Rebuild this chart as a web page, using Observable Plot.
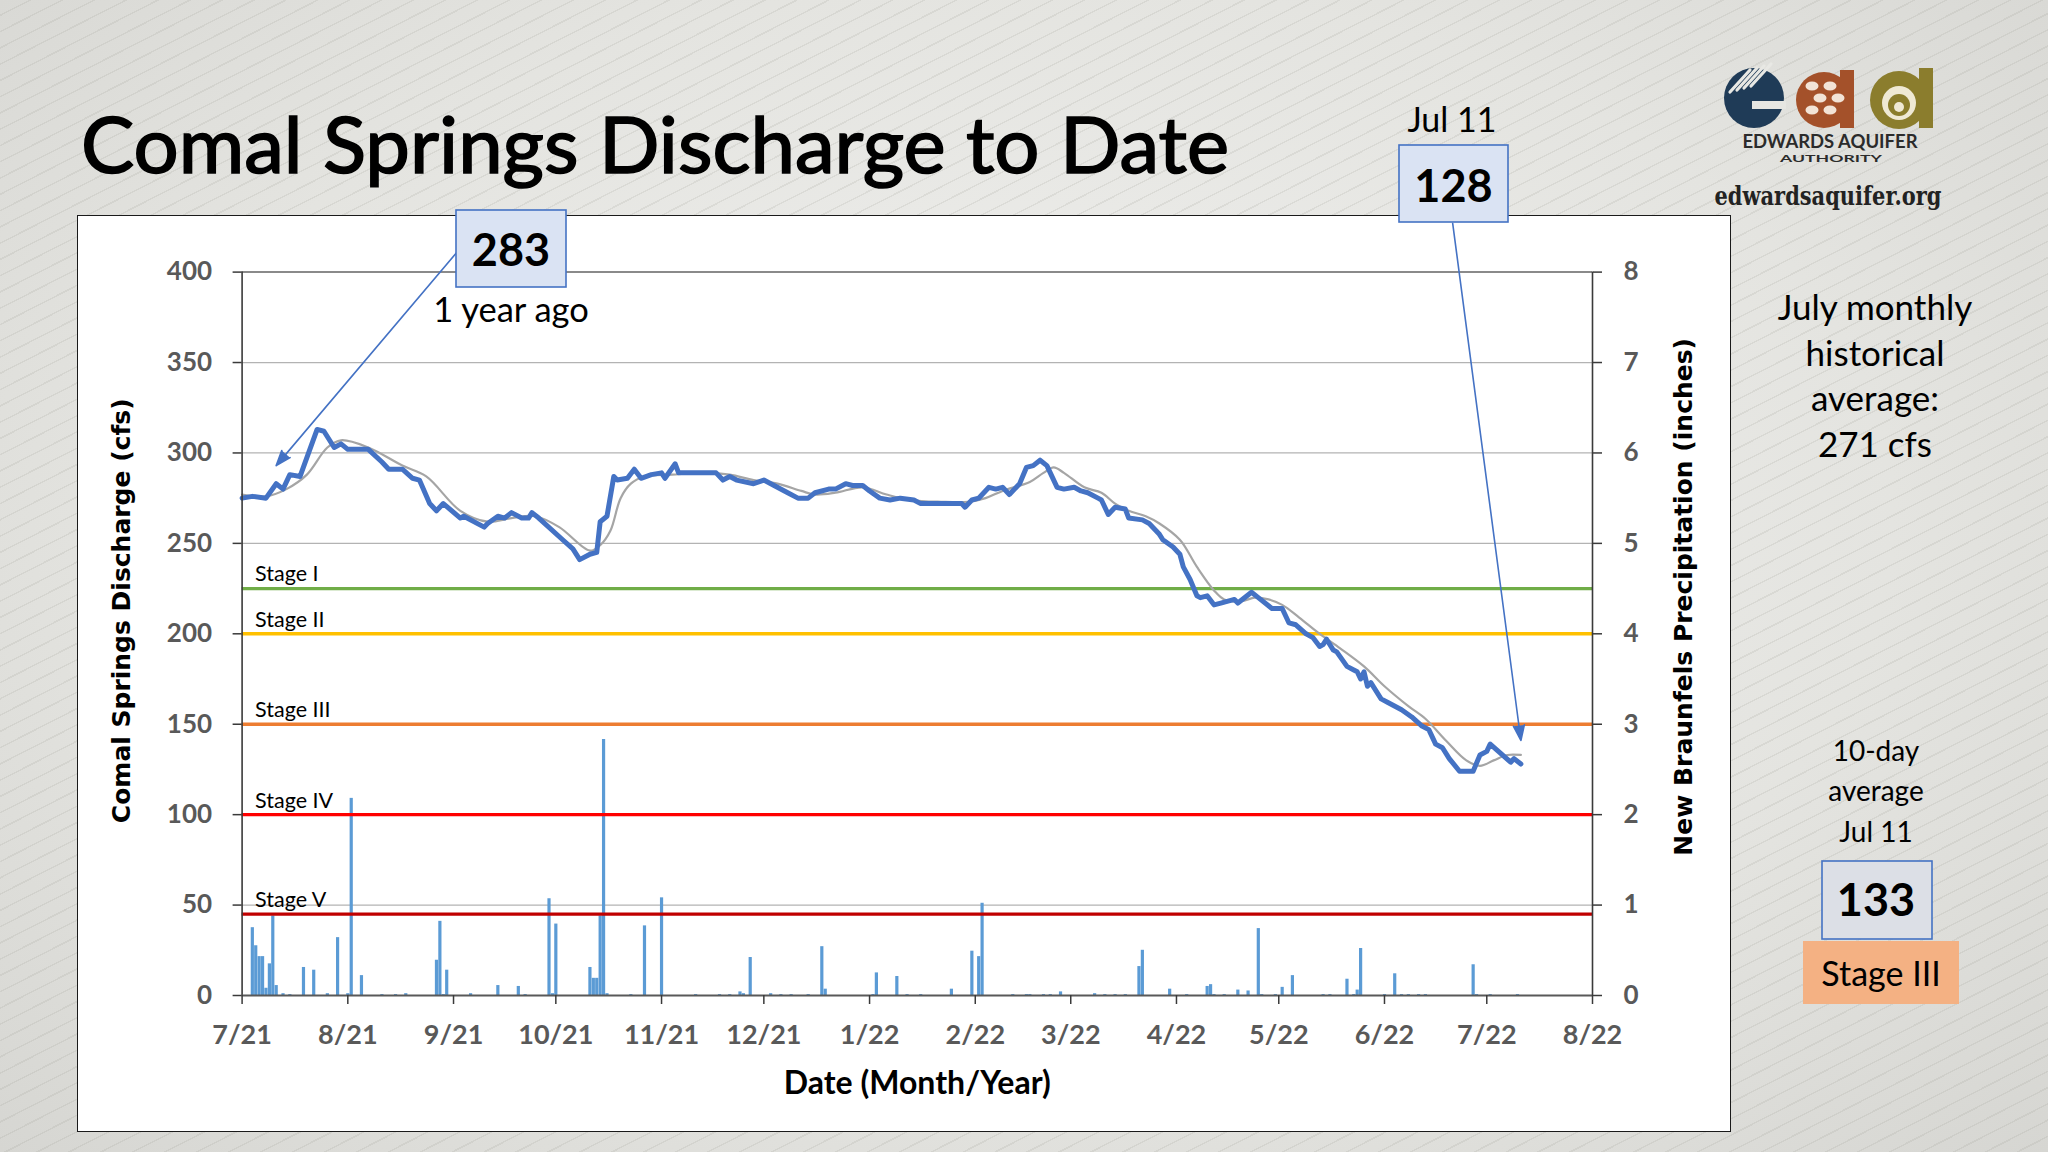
<!DOCTYPE html>
<html>
<head>
<meta charset="utf-8">
<script src="https://cdn.jsdelivr.net/npm/d3@7"></script>
<script src="https://cdn.jsdelivr.net/npm/@observablehq/plot@0.6"></script>
<style>
  html, body { margin: 0; padding: 0; }
  body {
    width: 2048px; height: 1152px; overflow: hidden; position: relative;
    font-family: Lato, "Open Sans", sans-serif;
    background:
      repeating-linear-gradient(153deg, rgba(150,150,140,0) 0px, rgba(150,150,140,0) 13px, rgba(150,150,140,0.16) 13px, rgba(150,150,140,0.16) 14.5px),
      radial-gradient(ellipse at 50% 45%, #f0f0ee 0%, #e4e4e0 60%, #d6d6d2 100%);
  }
  #panel { position: absolute; left: 77px; top: 215px; width: 1652px; height: 915px; background: #fff; border: 1.5px solid #1a1a1a; }
  #chart { position: absolute; left: 0; top: 0; }
  #overlay { position: absolute; left: 0; top: 0; pointer-events: none; }
</style>
</head>
<body>
<div id="panel"></div>
<div id="chart"></div>
<svg id="overlay" width="2048" height="1152"></svg>
<script>
// ---------- DATA ----------
// Daily Comal Springs discharge (cfs)
const flowDates = [
"2021-07-01","2021-07-04","2021-07-08","2021-07-11","2021-07-13","2021-07-15","2021-07-18","2021-07-23","2021-07-25","2021-07-28","2021-07-30",
"2021-08-01","2021-08-07","2021-08-11","2021-08-13","2021-08-17","2021-08-20","2021-08-22","2021-08-25","2021-08-27","2021-08-29",
"2021-09-03","2021-09-04","2021-09-10","2021-09-11","2021-09-14","2021-09-16","2021-09-18","2021-09-21","2021-09-23","2021-09-24","2021-09-26",
"2021-10-03","2021-10-06","2021-10-08","2021-10-11","2021-10-13","2021-10-14","2021-10-16","2021-10-18","2021-10-19","2021-10-22","2021-10-24","2021-10-26","2021-10-29",
"2021-11-01","2021-11-02","2021-11-05","2021-11-06","2021-11-17","2021-11-19","2021-11-21","2021-11-23","2021-11-28",
"2021-12-01","2021-12-04","2021-12-08","2021-12-11","2021-12-14","2021-12-16","2021-12-20","2021-12-22","2021-12-25","2021-12-27","2021-12-30",
"2022-01-01","2022-01-04","2022-01-07","2022-01-10","2022-01-14","2022-01-16","2022-01-28","2022-01-29","2022-01-31",
"2022-02-02","2022-02-05","2022-02-07","2022-02-09","2022-02-11","2022-02-14","2022-02-16","2022-02-18","2022-02-20","2022-02-22","2022-02-25","2022-02-27",
"2022-03-02","2022-03-04","2022-03-06","2022-03-09","2022-03-10","2022-03-12","2022-03-14","2022-03-17","2022-03-18","2022-03-22","2022-03-24","2022-03-27","2022-03-28","2022-03-31",
"2022-04-02","2022-04-03","2022-04-05","2022-04-07","2022-04-08","2022-04-10","2022-04-12","2022-04-14","2022-04-18","2022-04-19","2022-04-23","2022-04-25","2022-04-29",
"2022-05-02","2022-05-04","2022-05-06","2022-05-09","2022-05-11","2022-05-13","2022-05-14","2022-05-15","2022-05-17","2022-05-18","2022-05-21","2022-05-23","2022-05-24","2022-05-25","2022-05-26","2022-05-27","2022-05-28","2022-05-31",
"2022-06-02","2022-06-06","2022-06-09","2022-06-12","2022-06-14","2022-06-16","2022-06-18","2022-06-20","2022-06-23","2022-06-27","2022-06-29",
"2022-07-01","2022-07-02","2022-07-05","2022-07-08","2022-07-09","2022-07-11"
];
const flowValues = [
275,276,275,283,280,288,287,313,312,303,305,
302,302,295,291,291,286,285,272,268,272,
264,265,259,261,265,264,267,264,264,267,264,
252,247,241,244,245,262,265,287,285,286,291,286,288,
289,286,294,289,289,285,287,285,283,
285,282,278,275,275,278,280,280,283,282,282,
279,275,274,275,274,272,272,270,274,
275,281,280,281,277,283,292,293,296,293,281,280,
281,279,278,275,274,266,270,269,264,263,261,255,252,248,
244,237,230,221,220,221,216,217,219,217,223,220,214,
214,206,205,200,198,193,194,197,191,190,182,180,179,175,179,171,173,164,
162,158,154,149,147,139,137,131,124,124,133,
135,139,134,129,131,128
];

// Smoothed (gray) discharge series (cfs)
const avgDates = [
"2021-07-01","2021-07-08","2021-07-14","2021-07-20","2021-07-26","2021-07-30","2021-08-07","2021-08-17","2021-08-24",
"2021-09-03","2021-09-11","2021-09-18","2021-09-25","2021-10-02","2021-10-11","2021-10-14","2021-10-17","2021-10-20","2021-10-23","2021-10-27",
"2021-11-04","2021-11-14","2021-11-21","2021-11-28","2021-12-05","2021-12-12","2021-12-16","2021-12-22","2021-12-30",
"2022-01-06","2022-01-13","2022-01-22","2022-01-30","2022-02-04","2022-02-09","2022-02-17","2022-02-21","2022-02-24","2022-02-27",
"2022-03-05","2022-03-10","2022-03-14","2022-03-18","2022-03-23","2022-03-27","2022-04-02","2022-04-07","2022-04-12","2022-04-15",
"2022-04-20","2022-04-24","2022-04-28","2022-05-02","2022-05-07","2022-05-13","2022-05-19","2022-05-26","2022-06-01","2022-06-08",
"2022-06-13","2022-06-19","2022-06-25","2022-06-29","2022-07-03","2022-07-07","2022-07-11"
];
const avgValues = [
277,276,280,288,303,307,303,293,287,
268,262,264,265,259,246,249,257,275,283,287,
288,289,288,285,283,279,277,278,281,
277,274,273,273,275,279,284,289,292,289,
281,278,272,268,265,261,252,237,224,219,
218,220,219,216,209,200,192,182,171,160,
153,141,130,127,130,133,133
];

// New Braunfels daily precipitation (inches)
const precipDates = [
"2021-07-04","2021-07-05","2021-07-06","2021-07-07","2021-07-08","2021-07-09","2021-07-10","2021-07-11","2021-07-13","2021-07-15","2021-07-19","2021-07-22","2021-07-26","2021-07-29",
"2021-08-01","2021-08-02","2021-08-05","2021-08-11","2021-08-15","2021-08-18","2021-08-27","2021-08-28","2021-08-29","2021-08-30",
"2021-09-06","2021-09-14","2021-09-20","2021-09-22","2021-09-29","2021-09-30",
"2021-10-01","2021-10-11","2021-10-12","2021-10-13","2021-10-14","2021-10-15","2021-10-16","2021-10-23","2021-10-27",
"2021-11-01","2021-11-11","2021-11-18","2021-11-21","2021-11-24","2021-11-25","2021-11-27",
"2021-12-03","2021-12-06","2021-12-09","2021-12-14","2021-12-18","2021-12-19",
"2022-01-02","2022-01-03","2022-01-09","2022-01-12","2022-01-16","2022-01-25","2022-01-31",
"2022-02-02","2022-02-03","2022-02-12","2022-02-16","2022-02-17","2022-02-21","2022-02-23","2022-02-26",
"2022-03-08","2022-03-11","2022-03-14","2022-03-17","2022-03-21","2022-03-22","2022-03-30",
"2022-04-04","2022-04-10","2022-04-11","2022-04-12","2022-04-15","2022-04-19","2022-04-22","2022-04-25","2022-04-26","2022-04-30",
"2022-05-02","2022-05-05","2022-05-14","2022-05-16","2022-05-21","2022-05-23","2022-05-24","2022-05-25",
"2022-06-01","2022-06-04","2022-06-06","2022-06-08","2022-06-11","2022-06-13","2022-06-27","2022-06-28",
"2022-07-02","2022-07-10"
];
const precipInches = [
0.75,0.55,0.43,0.43,0.08,0.35,0.88,0.11,0.02,0.01,0.31,0.28,0.02,0.64,
0.02,2.18,0.22,0.01,0.01,0.02,0.39,0.82,0.01,0.28,
0.02,0.11,0.10,0.01,1.07,0.02,
0.79,0.31,0.19,0.19,0.88,2.83,0.02,0.01,0.77,
1.08,0.01,0.01,0.01,0.04,0.02,0.42,
0.02,0.01,0.01,0.01,0.54,0.07,
0.01,0.25,0.21,0.01,0.01,0.07,0.49,
0.43,1.02,0.01,0.01,0.01,0.01,0.01,0.04,
0.02,0.01,0.01,0.01,0.32,0.50,0.07,
0.01,0.10,0.12,0.01,0.01,0.06,0.05,0.74,0.01,0.01,
0.09,0.22,0.01,0.01,0.18,0.01,0.06,0.52,
0.01,0.24,0.01,0.01,0.01,0.01,0.34,0.01,
0.01,0.01
];

// Stage thresholds (cfs)
const stageNames = ["Stage I", "Stage II", "Stage III", "Stage IV", "Stage V"];
const stageValues = [225, 200, 150, 100, 45];

// Axes
const yTicks = [0, 50, 100, 150, 200, 250, 300, 350, 400];
const rightTickLabels = ["0", "1", "2", "3", "4", "5", "6", "7", "8"];
const xTickDates = ["2021-07-01","2021-08-01","2021-09-01","2021-10-01","2021-11-01","2021-12-01","2022-01-01","2022-02-01","2022-03-01","2022-04-01","2022-05-01","2022-06-01","2022-07-01","2022-08-01"];
const xTickLabels = ["7/21","8/21","9/21","10/21","11/21","12/21","1/22","2/22","3/22","4/22","5/22","6/22","7/22","8/22"];
const cfsPerInch = 50; // right axis: 8 in ↔ 400 cfs

// Annotations: arrow tail (at the call-out box) and tip (at the data point)
const annTailDates = ["2021-09-02", "2022-06-21"];
const annTailValues = [411, 427];
const annTipDates = ["2021-07-11", "2022-07-11"];
const annTipValues = [293, 141];

// ---------- STYLES ----------
const stageColors = ["#70ad47", "#ffc000", "#ed7d31", "#ff0000", "#c00000"];
const BLUE = "#4472c4", BAR = "#5b9bd5", GRAY = "#a5a5a5";

// ---------- BUILD ----------
const parse = d3.utcParse("%Y-%m-%d");
const flow = flowDates.map((d, i) => ({date: parse(d), value: flowValues[i]}));
const avg = avgDates.map((d, i) => ({date: parse(d), value: avgValues[i]}));
const precip = precipDates.map((d, i) => ({date: parse(d), inches: precipInches[i]}));
const stages = stageNames.map((n, i) => ({name: n, value: stageValues[i], color: stageColors[i]}));
const xTicks = xTickDates.map(parse);
const xLabelMap = new Map(xTicks.map((d, i) => [+d, xTickLabels[i]]));
const rightLabelMap = new Map(yTicks.map((v, i) => [v, rightTickLabels[i]]));
const ann = annTailDates.map((d, i) => ({
  x1: parse(d), y1: annTailValues[i], x2: parse(annTipDates[i]), y2: annTipValues[i]
}));
const x0 = xTicks[0], x1 = xTicks[xTicks.length - 1];

const tickFont = {fontFamily: "Lato, sans-serif", fontSize: 26, fontWeight: "bold", fill: "#595959", stroke: "#3a3a3a", strokeWidth: 1.5};
const axisTitleFont = {fontFamily: "DejaVu Sans, sans-serif", fontSize: 25, fontWeight: "bold", fill: "#000", textAnchor: "middle", lineAnchor: "middle"};

const chart = Plot.plot({
  width: 2048,
  height: 1152,
  marginLeft: 241.6,
  marginRight: 456,
  marginTop: 271.6,
  marginBottom: 157,
  style: {background: "transparent", overflow: "visible"},
  x: {type: "utc", domain: [x0, x1]},
  y: {domain: [0, 400]},
  marks: [
    Plot.ruleY(yTicks.filter(v => v > 0 && v < 400), {stroke: "#b3b3b3", strokeWidth: 1.3}),
    Plot.ruleY([400], {stroke: "#8a8a8a", strokeWidth: 2}),
    Plot.ruleX(precip, {x: "date", y1: 0, y2: d => d.inches * cfsPerInch, stroke: BAR, strokeWidth: 3.2, strokeLinecap: "butt"}),
    ...stages.map(s => Plot.ruleY([s.value], {stroke: s.color, strokeWidth: 3.4})),
    Plot.text(stages, {x: () => x0, y: "value", text: "name", dx: 13, dy: -14, textAnchor: "start",
      fontFamily: "Lato, sans-serif", fontSize: 21.5, fill: "#000"}),
    Plot.line(avg, {x: "date", y: "value", stroke: GRAY, strokeWidth: 2.2, curve: "catmull-rom"}),
    Plot.line(flow, {x: "date", y: "value", stroke: BLUE, strokeWidth: 5, strokeLinejoin: "round"}),
    Plot.ruleX([x0, x1], {y1: 0, y2: 400, stroke: "#3a3a3a", strokeWidth: 1.6}),
    Plot.ruleY([0], {stroke: "#595959", strokeWidth: 2}),
    Plot.axisY({anchor: "left", ticks: yTicks, tickSize: 9, tickPadding: 21, label: null, ...tickFont}),
    Plot.axisY({anchor: "right", ticks: yTicks, tickFormat: v => rightLabelMap.get(v), tickSize: 9, tickPadding: 22, label: null, ...tickFont}),
    Plot.axisX({ticks: xTicks, tickFormat: d => xLabelMap.get(+d), tickSize: 9, tickPadding: 20, label: null, ...tickFont, fontSize: 27}),
    Plot.text(["Date (Month/Year)"], {frameAnchor: "bottom", dy: 88, text: d => d, textAnchor: "middle", lineAnchor: "middle",
      fontFamily: "Lato, sans-serif", fontSize: 32, fontWeight: "bold", fill: "#000"}),
    Plot.text(["Comal Springs Discharge (cfs)"], {frameAnchor: "left", dx: -120, dy: -23, rotate: -90, text: d => d, ...axisTitleFont}),
    Plot.text(["New Braunfels Precipitation (inches)"], {frameAnchor: "right", dx: 91.5, dy: -37, rotate: -90, text: d => d, ...axisTitleFont}),
    Plot.arrow(ann, {x1: "x1", y1: "y1", x2: "x2", y2: "y2", stroke: BLUE, fill: BLUE, strokeWidth: 1.6, headLength: 15, headAngle: 40})
  ]
});
document.getElementById("chart").appendChild(chart);

// ---------- OVERLAY (title, call-outs, logo, side notes) ----------
const ov = d3.select("#overlay");
const F = "Lato, sans-serif";
function txt(x, y, s, size, opts = {}) {
  const t = ov.append("text").attr("x", x).attr("y", y).text(s)
    .attr("font-family", opts.family || F).attr("font-size", size)
    .attr("font-weight", opts.weight || "normal").attr("fill", opts.fill || "#000")
    .attr("text-anchor", opts.anchor || "middle");
  if (opts.len) t.attr("textLength", opts.len).attr("lengthAdjust", "spacingAndGlyphs");
  if (opts.sw) t.attr("stroke", opts.fill || "#000").attr("stroke-width", opts.sw);
  return t;
}
function box(x, y, w, h, fill, stroke) {
  ov.append("rect").attr("x", x).attr("y", y).attr("width", w).attr("height", h)
    .attr("fill", fill).attr("stroke", stroke || "none").attr("stroke-width", 1.6);
}

// Title
txt(81, 173, "Comal Springs Discharge to Date", 78, {anchor: "start", len: 1148, sw: 1.6});

// 1 year ago call-out
box(456, 210, 110, 77, "#dae3f3", BLUE);
txt(511, 266, "283", 45, {weight: "bold"});
txt(511, 322, "1 year ago", 34.5);

// Jul 11 call-out
txt(1452, 132, "Jul 11", 34);
box(1399, 145, 109, 77, "#dae3f3", BLUE);
txt(1453.5, 202, "128", 45, {weight: "bold"});

// Side notes
const sideLines = ["July monthly", "historical", "average:", "271 cfs"];
sideLines.forEach((s, i) => txt(1875, 320 + i * 45.7, s, 35));
const avgLines = ["10-day", "average", "Jul 11"];
avgLines.forEach((s, i) => txt(1876, 761 + i * 40.3, s, 28));
box(1822, 861, 110, 78, "#dcdfe6", BLUE);
txt(1876, 916, "133", 45, {weight: "bold"});
box(1803, 941, 156, 63, "#f4b183");
txt(1881, 986, "Stage III", 34);

// Logo
const lg = ov.append("g");
// navy "e"
lg.append("circle").attr("cx", 1754).attr("cy", 98).attr("r", 30).attr("fill", "#1f3b57");
lg.append("rect").attr("x", 1752).attr("y", 101).attr("width", 34).attr("height", 8).attr("fill", "#e6e6e2");
[0, 1, 2, 3].forEach(i => lg.append("line")
  .attr("x1", 1730 + i * 7).attr("y1", 92 - i * 2).attr("x2", 1750 + i * 7).attr("y2", 70 - i * 2)
  .attr("stroke", "#e8e8e4").attr("stroke-width", 3.2).attr("stroke-linecap", "round"));
// rust "a"
lg.append("circle").attr("cx", 1824).attr("cy", 100).attr("r", 28).attr("fill", "#a4512a");
lg.append("rect").attr("x", 1840).attr("y", 70).attr("width", 14).attr("height", 58).attr("fill", "#a4512a");
[[1812, 86], [1830, 86], [1820, 98], [1838, 98], [1812, 110], [1830, 110]].forEach(([cx, cy]) =>
  lg.append("ellipse").attr("cx", cx).attr("cy", cy).attr("rx", 6.5).attr("ry", 4.5).attr("fill", "#f2e3d6"));
// olive "a"
lg.append("circle").attr("cx", 1899).attr("cy", 100).attr("r", 29).attr("fill", "#8b7d2d");
lg.append("rect").attr("x", 1919).attr("y", 68).attr("width", 14).attr("height", 60).attr("fill", "#8b7d2d");
lg.append("circle").attr("cx", 1899).attr("cy", 103).attr("r", 17).attr("fill", "#efe9d4");
lg.append("circle").attr("cx", 1899).attr("cy", 105).attr("r", 11).attr("fill", "#8b7d2d");
lg.append("circle").attr("cx", 1899).attr("cy", 107).attr("r", 5).attr("fill", "#efe9d4");
txt(1830, 148, "EDWARDS AQUIFER", 18, {weight: "bold", fill: "#2b2b2b", len: 175});
txt(1831, 162, "AUTHORITY", 10, {weight: "bold", fill: "#2b2b2b", len: 102});
txt(1828, 205, "edwardsaquifer.org", 26, {family: "DejaVu Serif, serif", weight: "bold", fill: "#222", len: 227});
</script>
</body>
</html>
